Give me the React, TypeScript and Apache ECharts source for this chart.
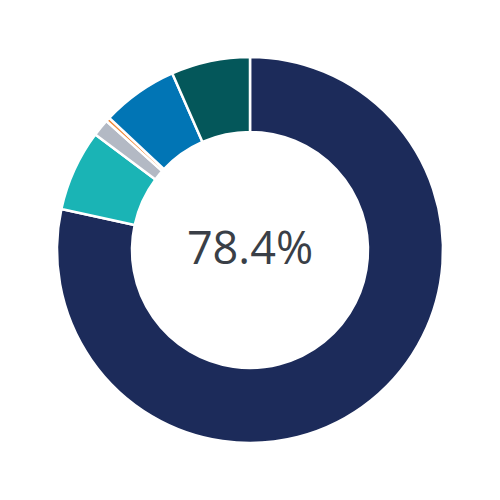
import { useEffect, useRef } from 'react';
import * as echarts from 'echarts';

const categories = ['Navy', 'Teal', 'Gray', 'Orange', 'Blue', 'Dark teal'];
const shares = [78.4, 6.8, 1.45, 0.35, 6.4, 6.6];
const colors = ['#1c2b5a', '#1ab4b5', '#b3b9c4', '#f08a3c', '#0175b5', '#04575a'];
const centerLabel = '78.4%';

const App: React.FC = () => {
    const chartRef = useRef<HTMLDivElement>(null);

    useEffect(() => {
        document.body.style.margin = '0';
        if (!chartRef.current) return;
        const chart = echarts.init(chartRef.current, null, { renderer: 'svg' });

        chart.setOption({
            animation: false,
            backgroundColor: '#ffffff',
            graphic: [{
                type: 'text',
                x: 250,
                y: 246,
                style: {
                    text: centerLabel,
                    fontSize: 45,
                    fontFamily: 'Open Sans',
                    fill: '#3a3f47',
                    align: 'center',
                    verticalAlign: 'middle'
                }
            }],
            series: [{
                type: 'pie',
                center: [250, 250],
                radius: [118, 193],
                startAngle: 90,
                clockwise: true,
                label: { show: false },
                labelLine: { show: false },
                itemStyle: { borderColor: '#ffffff', borderWidth: 2.5 },
                data: categories.map((name, i) => ({
                    name,
                    value: shares[i],
                    itemStyle: { color: colors[i] }
                }))
            }]
        });

        return () => chart.dispose();
    }, []);

    return <div ref={chartRef} style={{ width: 500, height: 500 }} />;
};

export default App;
